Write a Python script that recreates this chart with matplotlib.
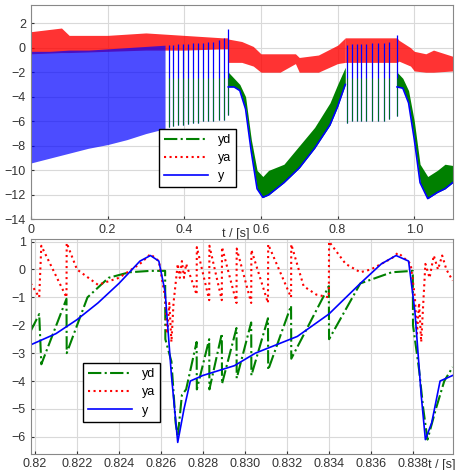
import matplotlib
matplotlib.use('Agg')
import matplotlib.pyplot as plt
import numpy as np

plt.rcParams['font.family'] = ['Liberation Sans', 'DejaVu Sans']

# ---- top panel data ----
# dense start region: envelope of the oscillating signals
dense_t = [0.0, 0.05, 0.1, 0.15, 0.2, 0.25, 0.3, 0.35]
dense_y_low = [-9.4, -9.0, -8.6, -8.2, -7.9, -7.5, -7.0, -6.6]
dense_y_high = [-0.3, -0.3, -0.2, -0.2, -0.1, 0.0, 0.1, 0.2]
ya1_t = [0.0, 0.08, 0.1, 0.2, 0.3, 0.4, 0.5, 0.515]
ya1_low = [-0.5, -0.4, -0.4, -0.3, -0.2, -0.2, -0.1, -0.1]
ya1_high = [1.3, 1.6, 1.0, 1.0, 1.2, 1.0, 0.8, 0.8]
ya2_t = [0.515, 0.55, 0.58, 0.6, 0.65, 0.69, 0.7, 0.75, 0.8, 0.82]
ya2_low = [-1.2, -1.2, -1.5, -2.0, -2.0, -1.3, -2.0, -2.0, -1.3, -1.2]
ya2_high = [0.7, 0.5, 0.1, -0.5, -0.5, -0.5, -0.8, -0.6, 0.2, 0.8]
ya3_t = [0.82, 0.955, 0.96, 0.99, 1.0, 1.03, 1.05, 1.1]
ya3_low = [-1.2, -1.2, -1.1, -1.5, -1.9, -2.0, -2.0, -1.9]
ya3_high = [0.8, 0.8, 0.6, 0.0, -0.3, -0.5, -0.2, -0.7]
spike_t = [0.36, 0.372, 0.385, 0.398, 0.41, 0.423, 0.436, 0.449, 0.462, 0.475,
           0.49, 0.505, 0.515, 0.825, 0.838, 0.85, 0.862, 0.875, 0.89, 0.905,
           0.92, 0.935, 0.955]
spike_low = [-6.5, -6.4, -6.3, -6.3, -6.2, -6.1, -6.1, -6.0, -6.0, -6.0,
             -5.9, -5.9, -5.5, -6.1, -6.0, -6.0, -6.0, -6.0, -6.0, -6.0,
             -6.0, -5.8, -5.6]
spike_high = [0.2, 0.2, 0.3, 0.3, 0.3, 0.4, 0.4, 0.4, 0.5, 0.5,
              0.6, 0.8, 1.5, 0.2, 0.3, 0.3, 0.3, 0.3, 0.4, 0.4,
              0.4, 0.5, 1.0]
y_t = [0.515, 0.53, 0.545, 0.56, 0.575, 0.59, 0.605, 0.62, 0.66, 0.7, 0.74, 0.78, 0.8, 0.82,
       0.955, 0.97, 0.985, 1.0, 1.015, 1.035, 1.06, 1.08, 1.1]
y_v = [-3.2, -3.2, -3.5, -5.0, -8.5, -11.5, -12.2, -12.0, -11.0, -9.8, -8.2, -6.3, -4.8, -3.0,
       -3.2, -3.3, -4.5, -7.5, -11.0, -12.3, -11.8, -11.5, -11.0]
yd_high = [-2.0, -2.5, -3.0, -4.0, -7.5, -10.0, -10.5, -10.0, -9.5, -8.0, -6.5, -4.5, -3.0, -1.6,
           -2.0, -2.5, -3.5, -6.0, -9.5, -10.5, -10.0, -9.5, -9.6]

# ---- bottom panel data ----
b_y_t = [0.8198, 0.821, 0.822, 0.823, 0.824, 0.825, 0.8255, 0.8259, 0.8262, 0.8265, 0.8268,
         0.8271, 0.8274, 0.828, 0.8295, 0.8305, 0.8325, 0.834, 0.8355, 0.8365, 0.8372, 0.8378,
         0.8381, 0.8384, 0.8386, 0.8389, 0.8393, 0.8399]
b_y_v = [-2.7, -2.3, -1.8, -1.2, -0.5, 0.3, 0.5, 0.3, -0.8, -3.8, -6.2, -5.0, -4.0, -3.8,
         -3.45, -3.0, -2.4, -1.6, -0.5, 0.2, 0.5, 0.3, -1.5, -4.5, -6.1, -5.5, -4.0, -3.8]
b_yd_t = [0.8198, 0.8202, 0.8203, 0.8215, 0.82151, 0.8225, 0.8235, 0.8245, 0.8255, 0.8262,
          0.82621, 0.8265, 0.8267, 0.8268, 0.827, 0.8272,
          0.8277, 0.82771, 0.8283, 0.82831, 0.8289, 0.82891, 0.8296, 0.82961, 0.8303, 0.83031,
          0.8311, 0.83111, 0.8322, 0.83221, 0.834, 0.83401, 0.8355, 0.837, 0.838, 0.83801,
          0.8383, 0.8385, 0.8387, 0.8391, 0.8395, 0.8399]
b_yd_v = [-2.2, -1.6, -3.4, -1.05, -3.0, -1.0, -0.3, -0.1, -0.05, -0.05,
          -2.5, -3.3, -5.5, -6.0, -4.5, -4.3,
          -2.6, -4.3, -2.5, -4.3, -2.3, -4.1, -2.1, -3.9, -1.9, -3.8,
          -1.75, -3.6, -1.3, -3.2, -0.6, -2.5, -0.5, -0.1, -0.05, -2.0,
          -3.6, -5.0, -6.1, -5.0, -4.0, -3.5]
b_ya_t = [0.8198, 0.8202, 0.8203, 0.8215, 0.82151, 0.822, 0.823, 0.824, 0.825, 0.8255, 0.8259,
          0.8262, 0.8263, 0.8264, 0.8265, 0.8266, 0.8268, 0.8269, 0.827, 0.8271, 0.8272,
          0.8277, 0.82771, 0.8283, 0.82831, 0.8289, 0.82891, 0.8296, 0.82961, 0.8303, 0.83031,
          0.8311, 0.83111, 0.8322, 0.83221, 0.8328, 0.8334, 0.834, 0.83401, 0.8348, 0.8355,
          0.836, 0.837, 0.8373, 0.8379, 0.8381, 0.8382, 0.8383, 0.8384, 0.8385, 0.8386,
          0.8388, 0.839, 0.8392, 0.8394, 0.8396, 0.8399]
b_ya_v = [-0.5, -1.0, 0.85, -1.0, 0.95, 0.0, -0.55, -0.3, 0.2, 0.55, 0.3,
          -1.0, -2.3, -1.2, -2.6, -1.2, 0.2, -0.3, 0.3, -0.3, 0.2,
          -0.9, 0.8, -1.1, 0.85, -1.1, 0.8, -1.2, 0.75, -1.2, 0.7,
          -1.2, 0.9, -1.0, 0.9, -0.6, -0.9, -1.0, 1.0, 0.2, -0.1,
          0.0, 0.4, 0.6, 0.2, -1.0, -2.3, -1.2, -2.6, -1.2, 0.2,
          -0.3, 0.5, 0.0, 0.5, 0.0, -0.4]

green = '#008000'
red = '#ff0000'
blue = '#0000ff'

fig, (ax1, ax2) = plt.subplots(2, 1, figsize=(4.74, 4.70), dpi=100)
fig.subplots_adjust(left=0.065, right=0.955, top=0.99, bottom=0.035, hspace=0.09)

# top
ax1.fill_between(ya1_t, ya1_low, ya1_high, color=red, alpha=0.8, lw=0)
ax1.fill_between(ya2_t, ya2_low, ya2_high, color=red, alpha=0.8, lw=0)
ax1.fill_between(ya3_t, ya3_low, ya3_high, color=red, alpha=0.8, lw=0)
ax1.fill_between(dense_t, dense_y_low, dense_y_high, color=blue, alpha=0.7, lw=0)
ax1.vlines(spike_t, spike_low, spike_high, color=blue, lw=0.9)
ax1.vlines(spike_t, spike_low, [-2.5] * len(spike_t), color=green, lw=0.6)
ax1.fill_between(y_t[:14], y_v[:14], yd_high[:14], color=green, lw=0)
ax1.fill_between(y_t[14:], y_v[14:], yd_high[14:], color=green, lw=0)
ax1.plot([], [], color=green, ls='-.', lw=1.5, label='yd')
ax1.plot([], [], color=red, ls=':', lw=1.5, label='ya')
ax1.plot(y_t[:14], y_v[:14], color=blue, lw=1.2, label='y')
ax1.plot(y_t[14:], y_v[14:], color=blue, lw=1.2)
ax1.set_xlim(0, 1.1)
ax1.set_ylim(-14, 3.5)
ax1.set_yticks(range(-14, 3, 2))
ax1.set_xticks([0, 0.2, 0.4, 0.6, 0.8, 1.0])
ax1.set_xticklabels(['0', '0.2', '0.4', '0.6', '0.8', '1.0'])
ax1.text(0.535, -15.15, 't / [s]', ha='center', va='center', fontsize=9, color='#333333')
ax1.legend(loc='lower left', bbox_to_anchor=(0.29, 0.12), fancybox=False,
           framealpha=1, edgecolor='black', fontsize=9, handlelength=3.5)

# bottom
ax2.plot(b_yd_t, b_yd_v, color=green, ls='-.', lw=1.5, label='yd')
ax2.plot(b_ya_t, b_ya_v, color=red, ls=':', lw=1.5, label='ya')
ax2.plot(b_y_t, b_y_v, color=blue, lw=1.2, label='y')
ax2.set_xlim(0.8198, 0.8399)
ax2.set_ylim(-6.6, 1.1)
ax2.set_xticks(np.arange(0.82, 0.8385, 0.002))
ax2.set_xticklabels(['0.82'] + ['%.3f' % v for v in np.arange(0.822, 0.8385, 0.002)])
ax2.text(0.8394, -7.0, 't / [s]', ha='center', va='center', fontsize=9, color='#333333')
ax2.legend(loc='lower left', bbox_to_anchor=(0.11, 0.12), fancybox=False,
           framealpha=1, edgecolor='black', fontsize=9, handlelength=3.5)

for ax in (ax1, ax2):
    ax.grid(True, color='#d9d9d9', lw=0.8)
    ax.set_axisbelow(True)
    ax.tick_params(labelsize=9, colors='#333333', length=2, direction='in')
    for s in ax.spines.values():
        s.set_color('#888888')

fig.savefig('out.png')
